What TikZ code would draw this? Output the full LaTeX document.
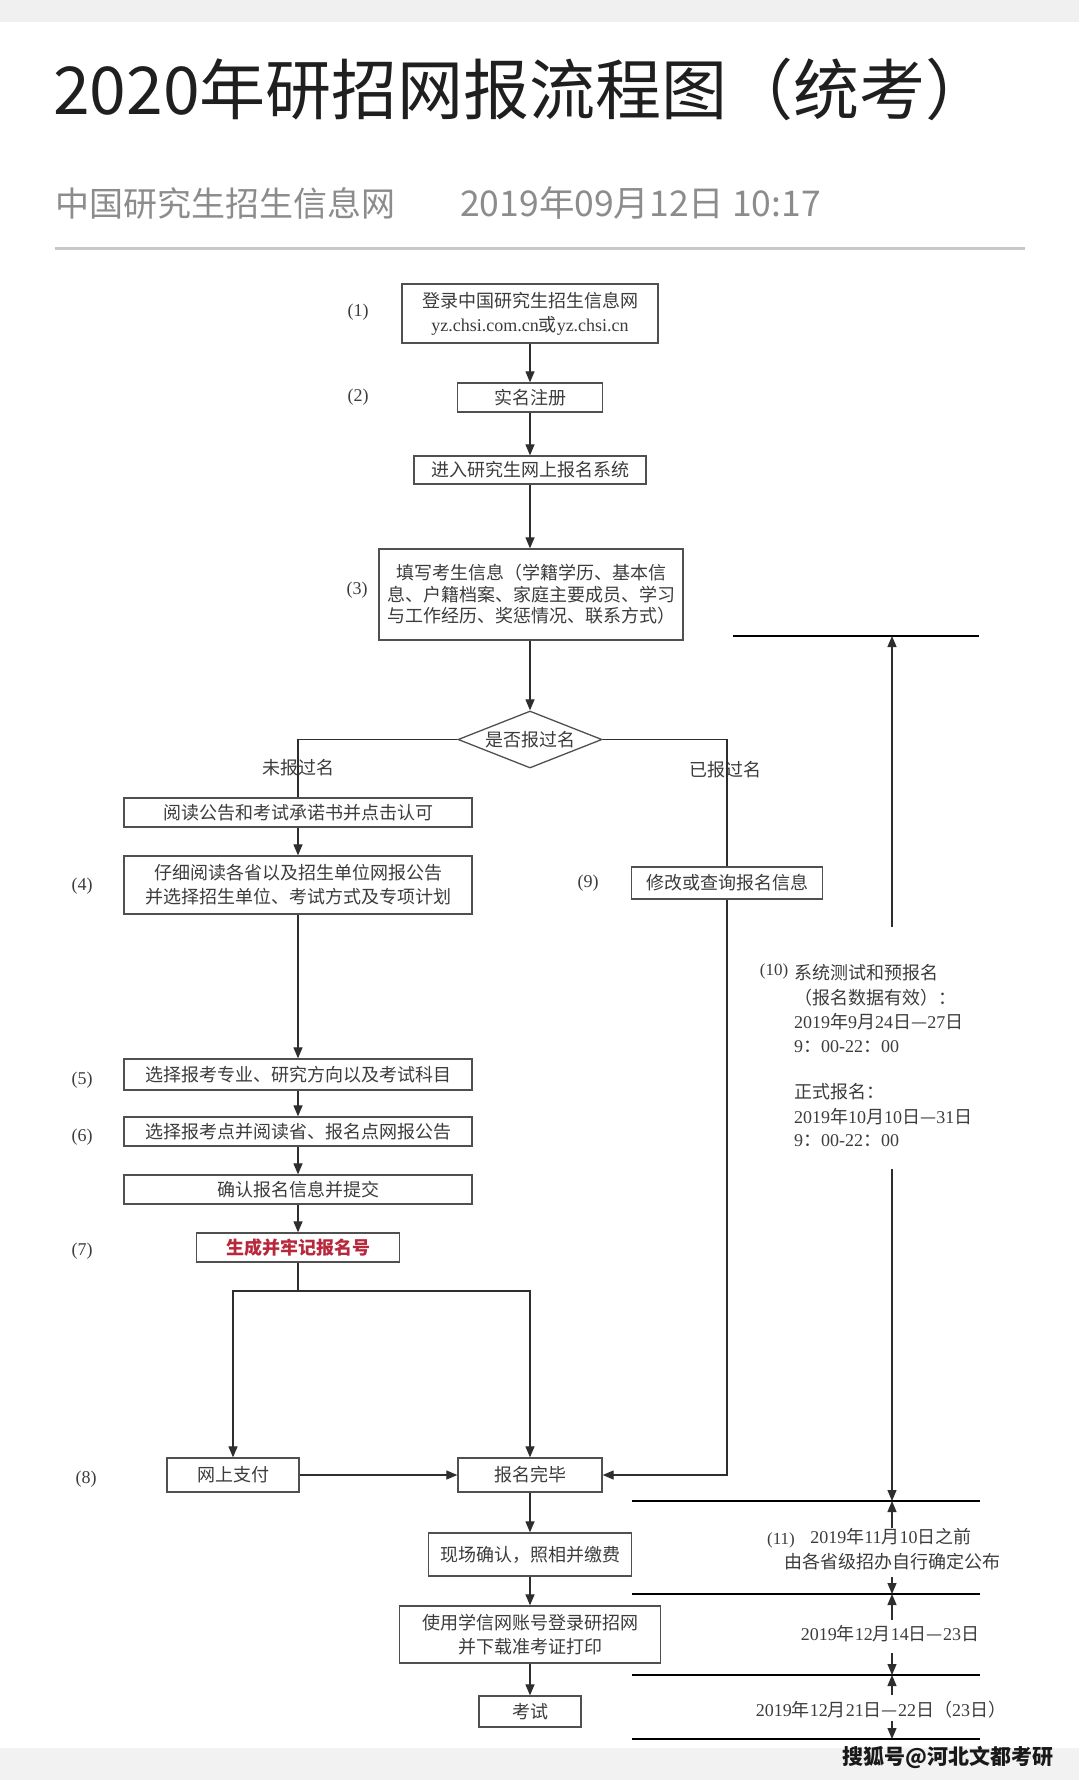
\documentclass[tikz,border=0pt]{standalone}
\usepackage{fontspec}
\setmainfont{Noto Sans CJK SC}
\newfontfamily\lat{Liberation Serif}
\usetikzlibrary{arrows.meta,shapes.geometric}
\definecolor{txt}{HTML}{3C3C3C}
\definecolor{bord}{HTML}{505050}
\definecolor{redt}{HTML}{B8283C}
\definecolor{subg}{HTML}{8C8C8C}
\definecolor{sepg}{HTML}{C8C8C8}
\newcommand\boxfont{\fontsize{18pt}{24pt}\selectfont}
\newcommand\lblfont{\lat\fontsize{18pt}{22pt}\selectfont}
\tikzset{
  box/.style={draw=bord, line width=1.3pt, rectangle, inner sep=0pt, align=center, text=txt, font=\boxfont},
  lbl/.style={text=txt, font=\lblfont, inner sep=0pt},
  note/.style={text=txt, font=\boxfont, inner sep=0pt, anchor=west, text height=15pt, text depth=3pt},
  conn/.style={draw=black!82, line width=1.2pt},
  arr/.style={conn, -{Triangle[length=11pt,width=9pt]}},
  tl/.style={draw=black, line width=1.3pt}
}
\begin{document}
\begin{tikzpicture}[x=1pt,y=-1pt]
\useasboundingbox (0,0) rectangle (1079,1780);
\fill[white] (0,0) rectangle (1079,1780);
\fill[black!6] (0,0) rectangle (1079,22);
\fill[black!5] (0,1748) rectangle (1079,1780);

% header
\node[anchor=west, inner sep=0pt, font=\fontsize{66pt}{72pt}\selectfont, text=black!88] (title) at (53,89) {2020年研招网报流程图（统考）};
\node[anchor=west, inner sep=0pt, font=\fontsize{34pt}{40pt}\selectfont, text=subg] (site) at (55,203) {中国研究生招生信息网};
\node[anchor=west, inner sep=0pt, font=\fontsize{35.5pt}{40pt}\selectfont, text=subg] (date) at (460,203) {2019年09月12日 10:17};
\coordinate (sepL) at (55,248);
\coordinate (sepR) at (1025,248);
\draw[sepg, line width=3pt] (sepL) -- (sepR);

% main column
\node[box, minimum width=256pt, minimum height=59pt] (b1) at (530,313.5) {登录中国研究生招生信息网\\{\lat yz.chsi.com.cn}或{\lat yz.chsi.cn}};
\node[box, minimum width=145pt, minimum height=29pt] (b2) at (530,397.5) {实名注册};
\node[box, minimum width=232pt, minimum height=28pt] (b3) at (530,470) {进入研究生网上报名系统};
\node[box, minimum width=304pt, minimum height=91pt, font=\fontsize{18pt}{21.5pt}\selectfont] (b4) at (531,594.5) {填写考生信息（学籍学历、基本信\\息、户籍档案、家庭主要成员、学习\\与工作经历、奖惩情况、联系方式）};
\node[draw=bord, line width=1.3pt, diamond, aspect=2.5, inner sep=0pt, minimum width=144pt, minimum height=57pt, text=txt, font=\boxfont] (dia) at (530,739.5) {是否报过名};

% left column
\node[box, minimum width=348pt, minimum height=29pt] (read) at (298,812.5) {阅读公告和考试承诺书并点击认可};
\node[box, minimum width=348pt, minimum height=58pt] (sel) at (298,885) {仔细阅读各省以及招生单位网报公告\\并选择招生单位、考试方式及专项计划};
\node[box, minimum width=348pt, minimum height=31pt] (b5) at (298,1074.5) {选择报考专业、研究方向以及考试科目};
\node[box, minimum width=348pt, minimum height=29pt] (b6) at (298,1131.5) {选择报考点并阅读省、报名点网报公告};
\node[box, minimum width=348pt, minimum height=29pt] (conf) at (298,1189.5) {确认报名信息并提交};
\node[box, minimum width=203pt, minimum height=29pt, text=redt, font=\boxfont\bfseries] (b7) at (298,1247.5) {生成并牢记报名号};
\node[box, minimum width=132pt, minimum height=34pt] (pay) at (233,1475) {网上支付};
\node[box, minimum width=144pt, minimum height=34pt] (done) at (530,1475) {报名完毕};
\node[box, minimum width=203pt, minimum height=43pt] (onsite) at (530,1554.5) {现场确认，照相并缴费};
\node[box, minimum width=261pt, minimum height=57pt] (print) at (530,1634.5) {使用学信网账号登录研招网\\并下载准考证打印};
\node[box, minimum width=102pt, minimum height=31pt] (exam) at (530,1711.5) {考试};

% right column
\node[box, minimum width=191pt, minimum height=32pt] (b9) at (727,883) {修改或查询报名信息};

% step labels
\node[lbl] (l1) at (358,312) {(1)};
\node[lbl] (l2) at (358,397) {(2)};
\node[lbl] (l3) at (357,590) {(3)};
\node[lbl] (l4) at (82,886) {(4)};
\node[lbl] (l5) at (82,1080) {(5)};
\node[lbl] (l6) at (82,1137) {(6)};
\node[lbl] (l7) at (82,1251) {(7)};
\node[lbl] (l8) at (86,1479) {(8)};
\node[lbl] (l9) at (588,883) {(9)};

% branch texts
\node[text=txt, font=\boxfont, inner sep=0pt] (no) at (298,768) {未报过名};
\node[text=txt, font=\boxfont, inner sep=0pt] (yes) at (725,770) {已报过名};

% connectors
\draw[arr] (b1) -- (b2);
\draw[arr] (b2) -- (b3);
\draw[arr] (b3.south) -- (b3.south |- b4.north);
\draw[arr] (b4.south -| dia.north) -- (dia.north);
\draw[conn] (dia.west) -| (read.north);
\draw[arr] (read) -- (sel);
\draw[arr] (sel) -- (b5);
\draw[arr] (b5) -- (b6);
\draw[arr] (b6) -- (conf);
\draw[arr] (conf) -- (b7);
\coordinate (split) at (298,1291);
\draw[conn] (b7.south) -- (split);
\draw[arr] (split) -| (pay.north);
\draw[arr] (split) -| (done.north);
\draw[arr] (pay.east) -- (done.west);
\draw[conn] (dia.east) -| (b9.north);
\draw[arr] (b9.south) |- (done.east);
\draw[arr] (done) -- (onsite);
\draw[arr] (onsite) -- (print);
\draw[arr] (print) -- (exam);

% timeline
\coordinate (L0w) at (733,636);  \coordinate (L0e) at (979,636);  \coordinate (L0m) at (892,636);
\coordinate (L1w) at (632,1501); \coordinate (L1e) at (980,1501); \coordinate (L1m) at (892,1501);
\coordinate (L2w) at (632,1594); \coordinate (L2e) at (980,1594); \coordinate (L2m) at (892,1594);
\coordinate (L3w) at (632,1675); \coordinate (L3e) at (980,1675); \coordinate (L3m) at (892,1675);
\coordinate (L4w) at (632,1739); \coordinate (L4e) at (980,1739); \coordinate (L4m) at (892,1739);
\draw[tl] (L0w) -- (L0e);
\draw[tl] (L1w) -- (L1e);
\draw[tl] (L2w) -- (L2e);
\draw[tl] (L3w) -- (L3e);
\draw[tl] (L4w) -- (L4e);

\coordinate (p10a) at (892,927);
\coordinate (p10b) at (892,1169);
\draw[arr] (p10a) -- (L0m);
\draw[arr] (p10b) -- (L1m);
\coordinate (p11a) at (892,1528);
\coordinate (p11b) at (892,1577);
\draw[arr] (p11a) -- (L1m);
\draw[arr] (p11b) -- (L2m);
\coordinate (p12a) at (892,1620);
\coordinate (p12b) at (892,1653);
\draw[arr] (p12a) -- (L2m);
\draw[arr] (p12b) -- (L3m);
\coordinate (p13a) at (892,1695);
\coordinate (p13b) at (892,1721);
\draw[arr] (p13a) -- (L3m);
\draw[arr] (p13b) -- (L4m);

% (10) block
\node[lbl, font=\lat\fontsize{17pt}{18pt}\selectfont] (l10) at (774,971) {(10)};
\node[note] (t1) at (794,973) {系统测试和预报名};
\node[note] (t2) at (794,998) {（报名数据有效）：};
\node[note] (t3) at (794,1022) {{\lat 2019}年{\lat 9}月{\lat 24}日—{\lat 27}日};
\node[note] (t4) at (794,1046) {{\lat 9}：{\lat 00-22}：{\lat 00}};
\node[note] (t5) at (794,1092) {正式报名：};
\node[note] (t6) at (794,1117) {{\lat 2019}年{\lat 10}月{\lat 10}日—{\lat 31}日};
\node[note] (t7) at (794,1140) {{\lat 9}：{\lat 00-22}：{\lat 00}};

% (11) block and dates
\node[lbl, font=\lat\fontsize{17pt}{18pt}\selectfont] (l11) at (781,1540) {(11)};
\node[note, anchor=center] (u1) at (891,1537) {{\lat 2019}年{\lat 11}月{\lat 10}日之前};
\node[note, anchor=center] (u2) at (892,1562) {由各省级招办自行确定公布};
\node[note, anchor=center] (u3) at (890,1634) {{\lat 2019}年{\lat 12}月{\lat 14}日—{\lat 23}日};
\node[note, anchor=center] (u4) at (881,1710) {{\lat 2019}年{\lat 12}月{\lat 21}日—{\lat 22}日（{\lat 23}日）};

% watermark
\node[inner sep=0pt, font=\bfseries\fontsize{21pt}{24pt}\selectfont, text=black!90] (wm) at (948,1757) {搜狐号@河北文都考研};
\end{tikzpicture}
\end{document}
